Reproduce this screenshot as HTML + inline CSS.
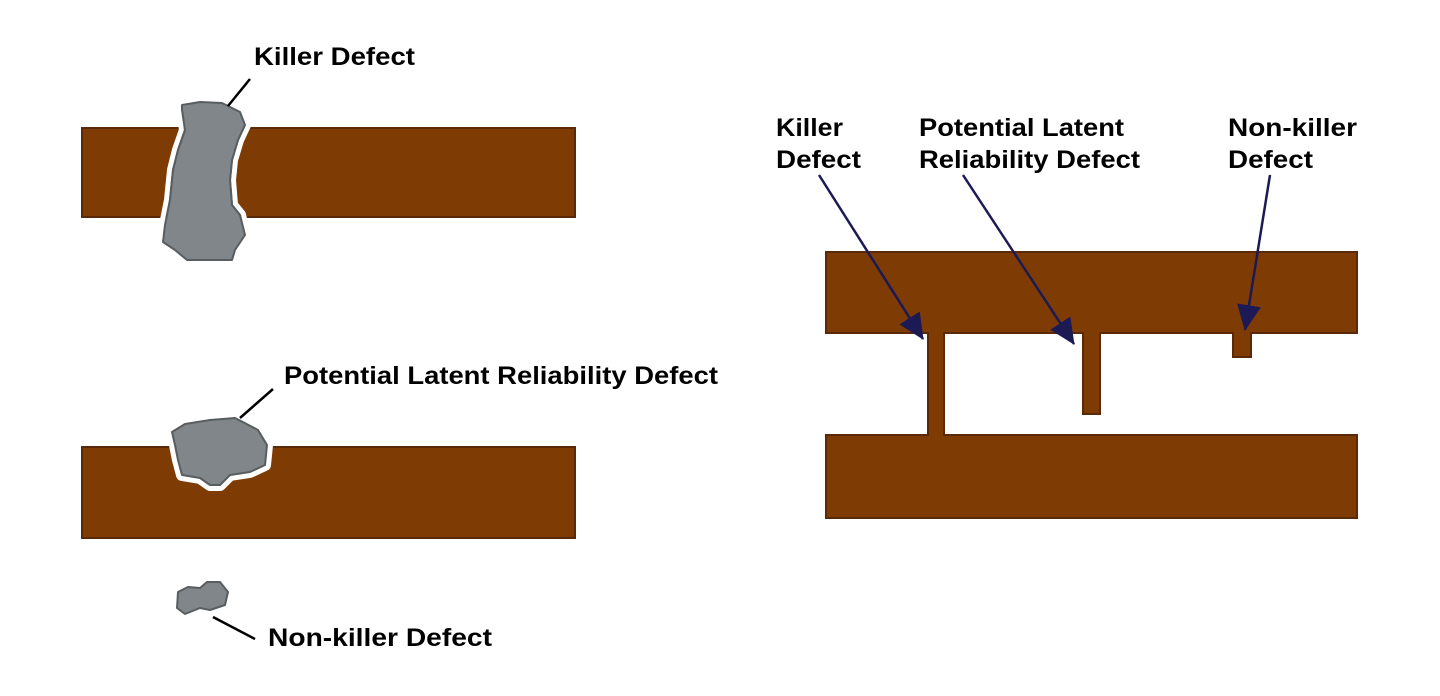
<!DOCTYPE html>
<html><head><meta charset="utf-8"><style>
html,body{margin:0;padding:0;background:#fff;}
svg{display:block;}
text{font-family:"Liberation Sans",sans-serif;font-weight:bold;font-size:25px;fill:#000;}
</style></head><body>
<svg width="1440" height="696" viewBox="0 0 1440 696" xmlns="http://www.w3.org/2000/svg">
<defs>
<marker id="ah" markerWidth="26" markerHeight="24" refX="25" refY="12" orient="auto" markerUnits="userSpaceOnUse">
<path d="M0,0 L26,12 L0,24 Z" fill="#1b1a55"/>
</marker>
</defs>
<!-- Left bars -->
<rect x="82" y="128" width="493" height="89" fill="#7f3b04" stroke="#5a2a08" stroke-width="2"/>
<rect x="82" y="447" width="493" height="91" fill="#7f3b04" stroke="#5a2a08" stroke-width="2"/>
<!-- killer defect -->
<path id="kd" d="M182,105 L200,102 L222,103 L240,112 L245,125 L238,140 L232,160 L230,180 L232,205 L240,215 L245,235 L235,250 L232,260 L187,260 L175,250 L163,242 L165,225 L170,200 L173,170 L178,150 L185,130 L182,110 Z" fill="#fff" stroke="#fff" stroke-width="12" stroke-linejoin="round"/>
<path d="M182,105 L200,102 L222,103 L240,112 L245,125 L238,140 L232,160 L230,180 L232,205 L240,215 L245,235 L235,250 L232,260 L187,260 L175,250 L163,242 L165,225 L170,200 L173,170 L178,150 L185,130 L182,110 Z" fill="#80868a" stroke="#585d60" stroke-width="2" stroke-linejoin="round"/>
<rect x="140" y="90" width="140" height="37" fill="#fff"/>
<rect x="140" y="218" width="140" height="50" fill="#fff"/>
<path d="M182,105 L200,102 L222,103 L240,112 L245,125 L238,140 L232,160 L230,180 L232,205 L240,215 L245,235 L235,250 L232,260 L187,260 L175,250 L163,242 L165,225 L170,200 L173,170 L178,150 L185,130 L182,110 Z" fill="#80868a" stroke="#585d60" stroke-width="2" stroke-linejoin="round"/>
<line x1="228" y1="106" x2="250" y2="79" stroke="#000" stroke-width="2.5"/>
<text x="254" y="65" textLength="161" lengthAdjust="spacingAndGlyphs">Killer Defect</text>
<!-- latent defect -->
<path d="M172,432 L185,424 L210,420 L235,418 L258,430 L267,445 L265,465 L250,472 L230,475 L220,485 L210,485 L200,478 L182,475 L178,460 L175,445 Z" fill="#fff" stroke="#fff" stroke-width="12" stroke-linejoin="round"/>
<rect x="150" y="400" width="140" height="46" fill="#fff"/>
<path d="M172,432 L185,424 L210,420 L235,418 L258,430 L267,445 L265,465 L250,472 L230,475 L220,485 L210,485 L200,478 L182,475 L178,460 L175,445 Z" fill="#80868a" stroke="#585d60" stroke-width="2" stroke-linejoin="round"/>
<line x1="240" y1="418" x2="273" y2="389" stroke="#000" stroke-width="2.5"/>
<text x="284" y="384" textLength="434" lengthAdjust="spacingAndGlyphs">Potential Latent Reliability Defect</text>
<!-- non-killer -->
<path d="M178,592 L188,587 L200,588 L207,582 L220,582 L228,592 L225,605 L210,610 L200,608 L185,614 L177,608 Z" fill="#80868a" stroke="#585d60" stroke-width="2" stroke-linejoin="round"/>
<line x1="213" y1="617" x2="255" y2="639" stroke="#000" stroke-width="2.5"/>
<text x="268" y="646" textLength="224" lengthAdjust="spacingAndGlyphs">Non-killer Defect</text>
<!-- Right diagram -->
<path d="M826,252 H1357 V333 H1251 V357 H1233 V333 H1100 V414 H1083 V333 H944 V435 H1357 V518 H826 V435 H928 V333 H826 Z" fill="#7f3b04" stroke="#5a2a08" stroke-width="2"/>
<line x1="819" y1="175" x2="923" y2="339" stroke="#1b1a55" stroke-width="2.5" marker-end="url(#ah)"/>
<line x1="963" y1="175" x2="1074" y2="344" stroke="#1b1a55" stroke-width="2.5" marker-end="url(#ah)"/>
<line x1="1270" y1="175" x2="1245" y2="330" stroke="#1b1a55" stroke-width="2.5" marker-end="url(#ah)"/>
<text x="776" y="136" textLength="67" lengthAdjust="spacingAndGlyphs">Killer</text>
<text x="776" y="168" textLength="85" lengthAdjust="spacingAndGlyphs">Defect</text>
<text x="919" y="136" textLength="205" lengthAdjust="spacingAndGlyphs">Potential Latent</text>
<text x="919" y="168" textLength="221" lengthAdjust="spacingAndGlyphs">Reliability Defect</text>
<text x="1228" y="136" textLength="129" lengthAdjust="spacingAndGlyphs">Non-killer</text>
<text x="1228" y="168" textLength="85" lengthAdjust="spacingAndGlyphs">Defect</text>
</svg>
</body></html>
